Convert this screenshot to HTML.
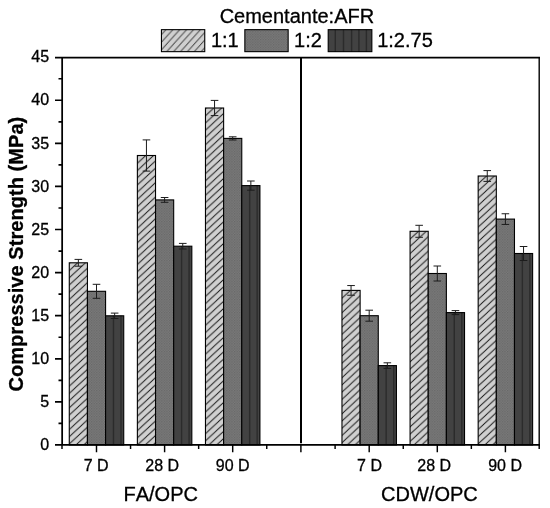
<!DOCTYPE html>
<html><head><meta charset="utf-8"><title>Compressive Strength</title>
<style>html,body{margin:0;padding:0;background:#fff;overflow:hidden}body{width:550px;height:508px}</style></head>
<body>
<svg width="550" height="508" viewBox="0 0 550 508" style="display:block">
<defs>
<pattern id="h2" patternUnits="userSpaceOnUse" width="6.9" height="7.6" x="1.1" y="51.6">
<rect width="6.9" height="7.6" fill="#d0d0d0"/>
<path d="M-6.9 15.2L13.8 -7.6M-6.9 7.6L6.9 -7.6M0 15.2L13.8 0" stroke="#1a1a1a" stroke-width="0.95" fill="none"/>
</pattern>
<pattern id="d1" patternUnits="userSpaceOnUse" width="2.6" height="2.6">
<rect width="2.6" height="2.6" fill="#7b7b7b"/>
<rect x="0" y="0" width="1.3" height="1.3" fill="#666"/>
<rect x="1.3" y="1.3" width="1.3" height="1.3" fill="#6c6c6c"/>
</pattern>
</defs>
<rect width="550" height="508" fill="#ffffff"/>
<pattern id="p1" patternUnits="userSpaceOnUse" x="69.28" y="270.60" width="7.77" height="7.225"><rect width="7.77" height="7.225" fill="#d0d0d0"/><path d="M-7.77 14.45L15.54 -7.225M-7.77 7.225L7.77 -7.225M0 14.45L15.54 0" stroke="#141414" stroke-width="0.95" fill="none"/></pattern><rect x="69.28" y="262.80" width="18.15" height="182.15" fill="url(#p1)" stroke="#000" stroke-width="1.1"/>
<rect x="87.43" y="291.30" width="18.15" height="153.65" fill="url(#d1)" stroke="#000" stroke-width="1.1"/>
<rect x="105.58" y="315.80" width="18.15" height="129.15" fill="#424242"/><line x1="113.48" y1="315.80" x2="113.48" y2="444.95" stroke="#2b2b2b" stroke-width="1.4"/><line x1="120.98" y1="315.80" x2="120.98" y2="444.95" stroke="#2b2b2b" stroke-width="1.4"/><rect x="105.58" y="315.80" width="18.15" height="129.15" fill="none" stroke="#000" stroke-width="1.1"/>
<pattern id="p2" patternUnits="userSpaceOnUse" x="137.38" y="163.30" width="7.77" height="7.225"><rect width="7.77" height="7.225" fill="#d0d0d0"/><path d="M-7.77 14.45L15.54 -7.225M-7.77 7.225L7.77 -7.225M0 14.45L15.54 0" stroke="#141414" stroke-width="0.95" fill="none"/></pattern><rect x="137.38" y="155.50" width="18.15" height="289.45" fill="url(#p2)" stroke="#000" stroke-width="1.1"/>
<rect x="155.53" y="199.90" width="18.15" height="245.05" fill="url(#d1)" stroke="#000" stroke-width="1.1"/>
<rect x="173.68" y="246.20" width="18.15" height="198.75" fill="#424242"/><line x1="181.58" y1="246.20" x2="181.58" y2="444.95" stroke="#2b2b2b" stroke-width="1.4"/><line x1="189.08" y1="246.20" x2="189.08" y2="444.95" stroke="#2b2b2b" stroke-width="1.4"/><rect x="173.68" y="246.20" width="18.15" height="198.75" fill="none" stroke="#000" stroke-width="1.1"/>
<pattern id="p3" patternUnits="userSpaceOnUse" x="205.47" y="115.80" width="7.77" height="7.225"><rect width="7.77" height="7.225" fill="#d0d0d0"/><path d="M-7.77 14.45L15.54 -7.225M-7.77 7.225L7.77 -7.225M0 14.45L15.54 0" stroke="#141414" stroke-width="0.95" fill="none"/></pattern><rect x="205.47" y="108.00" width="18.15" height="336.95" fill="url(#p3)" stroke="#000" stroke-width="1.1"/>
<rect x="223.62" y="138.40" width="18.15" height="306.55" fill="url(#d1)" stroke="#000" stroke-width="1.1"/>
<rect x="241.77" y="185.60" width="18.15" height="259.35" fill="#424242"/><line x1="249.67" y1="185.60" x2="249.67" y2="444.95" stroke="#2b2b2b" stroke-width="1.4"/><line x1="257.17" y1="185.60" x2="257.17" y2="444.95" stroke="#2b2b2b" stroke-width="1.4"/><rect x="241.77" y="185.60" width="18.15" height="259.35" fill="none" stroke="#000" stroke-width="1.1"/>
<pattern id="p4" patternUnits="userSpaceOnUse" x="341.97" y="298.20" width="7.77" height="7.225"><rect width="7.77" height="7.225" fill="#d0d0d0"/><path d="M-7.77 14.45L15.54 -7.225M-7.77 7.225L7.77 -7.225M0 14.45L15.54 0" stroke="#141414" stroke-width="0.95" fill="none"/></pattern><rect x="341.97" y="290.40" width="18.15" height="154.55" fill="url(#p4)" stroke="#000" stroke-width="1.1"/>
<rect x="360.12" y="315.70" width="18.15" height="129.25" fill="url(#d1)" stroke="#000" stroke-width="1.1"/>
<rect x="378.27" y="365.60" width="18.15" height="79.35" fill="#424242"/><line x1="386.17" y1="365.60" x2="386.17" y2="444.95" stroke="#2b2b2b" stroke-width="1.4"/><line x1="393.67" y1="365.60" x2="393.67" y2="444.95" stroke="#2b2b2b" stroke-width="1.4"/><rect x="378.27" y="365.60" width="18.15" height="79.35" fill="none" stroke="#000" stroke-width="1.1"/>
<pattern id="p5" patternUnits="userSpaceOnUse" x="410.07" y="239.10" width="7.77" height="7.225"><rect width="7.77" height="7.225" fill="#d0d0d0"/><path d="M-7.77 14.45L15.54 -7.225M-7.77 7.225L7.77 -7.225M0 14.45L15.54 0" stroke="#141414" stroke-width="0.95" fill="none"/></pattern><rect x="410.07" y="231.30" width="18.15" height="213.65" fill="url(#p5)" stroke="#000" stroke-width="1.1"/>
<rect x="428.22" y="273.50" width="18.15" height="171.45" fill="url(#d1)" stroke="#000" stroke-width="1.1"/>
<rect x="446.38" y="312.60" width="18.15" height="132.35" fill="#424242"/><line x1="454.27" y1="312.60" x2="454.27" y2="444.95" stroke="#2b2b2b" stroke-width="1.4"/><line x1="461.77" y1="312.60" x2="461.77" y2="444.95" stroke="#2b2b2b" stroke-width="1.4"/><rect x="446.38" y="312.60" width="18.15" height="132.35" fill="none" stroke="#000" stroke-width="1.1"/>
<pattern id="p6" patternUnits="userSpaceOnUse" x="478.17" y="183.80" width="7.77" height="7.225"><rect width="7.77" height="7.225" fill="#d0d0d0"/><path d="M-7.77 14.45L15.54 -7.225M-7.77 7.225L7.77 -7.225M0 14.45L15.54 0" stroke="#141414" stroke-width="0.95" fill="none"/></pattern><rect x="478.17" y="176.00" width="18.15" height="268.95" fill="url(#p6)" stroke="#000" stroke-width="1.1"/>
<rect x="496.32" y="219.10" width="18.15" height="225.85" fill="url(#d1)" stroke="#000" stroke-width="1.1"/>
<rect x="514.47" y="253.50" width="18.15" height="191.45" fill="#424242"/><line x1="522.37" y1="253.50" x2="522.37" y2="444.95" stroke="#2b2b2b" stroke-width="1.4"/><line x1="529.87" y1="253.50" x2="529.87" y2="444.95" stroke="#2b2b2b" stroke-width="1.4"/><rect x="514.47" y="253.50" width="18.15" height="191.45" fill="none" stroke="#000" stroke-width="1.1"/>
<path d="M78.35 259.40V266.20M74.55 259.40H82.15M74.55 266.20H82.15" stroke="#1c1c1c" stroke-width="1" fill="none"/>
<path d="M96.50 284.30V298.30M92.70 284.30H100.30M92.70 298.30H100.30" stroke="#1c1c1c" stroke-width="1" fill="none"/>
<path d="M114.65 313.10V318.50M110.85 313.10H118.45M110.85 318.50H118.45" stroke="#1c1c1c" stroke-width="1" fill="none"/>
<path d="M146.45 139.90V171.10M142.65 139.90H150.25M142.65 171.10H150.25" stroke="#1c1c1c" stroke-width="1" fill="none"/>
<path d="M164.60 197.50V202.30M160.80 197.50H168.40M160.80 202.30H168.40" stroke="#1c1c1c" stroke-width="1" fill="none"/>
<path d="M182.75 243.40V249.00M178.95 243.40H186.55M178.95 249.00H186.55" stroke="#1c1c1c" stroke-width="1" fill="none"/>
<path d="M214.55 100.40V115.60M210.75 100.40H218.35M210.75 115.60H218.35" stroke="#1c1c1c" stroke-width="1" fill="none"/>
<path d="M232.70 136.80V140.00M228.90 136.80H236.50M228.90 140.00H236.50" stroke="#1c1c1c" stroke-width="1" fill="none"/>
<path d="M250.85 181.00V190.20M247.05 181.00H254.65M247.05 190.20H254.65" stroke="#1c1c1c" stroke-width="1" fill="none"/>
<path d="M351.05 285.55V295.25M347.25 285.55H354.85M347.25 295.25H354.85" stroke="#1c1c1c" stroke-width="1" fill="none"/>
<path d="M369.20 310.20V321.20M365.40 310.20H373.00M365.40 321.20H373.00" stroke="#1c1c1c" stroke-width="1" fill="none"/>
<path d="M387.35 362.80V368.40M383.55 362.80H391.15M383.55 368.40H391.15" stroke="#1c1c1c" stroke-width="1" fill="none"/>
<path d="M419.15 225.30V237.30M415.35 225.30H422.95M415.35 237.30H422.95" stroke="#1c1c1c" stroke-width="1" fill="none"/>
<path d="M437.30 266.00V281.00M433.50 266.00H441.10M433.50 281.00H441.10" stroke="#1c1c1c" stroke-width="1" fill="none"/>
<path d="M455.45 310.60V314.60M451.65 310.60H459.25M451.65 314.60H459.25" stroke="#1c1c1c" stroke-width="1" fill="none"/>
<path d="M487.25 170.60V181.40M483.45 170.60H491.05M483.45 181.40H491.05" stroke="#1c1c1c" stroke-width="1" fill="none"/>
<path d="M505.40 213.75V224.45M501.60 213.75H509.20M501.60 224.45H509.20" stroke="#1c1c1c" stroke-width="1" fill="none"/>
<path d="M523.55 246.50V260.50M519.75 246.50H527.35M519.75 260.50H527.35" stroke="#1c1c1c" stroke-width="1" fill="none"/>
<path d="M62.15 57.55V444.95" stroke="#000" stroke-width="1.75" fill="none"/>
<path d="M301.0 57.55V443.2" stroke="#000" stroke-width="2" fill="none"/>
<path d="M539.2 57.55V444.95" stroke="#000" stroke-width="1.4" fill="none"/>
<path d="M55 57.55H540.0M55 444.95H540.0" stroke="#000" stroke-width="1.8" fill="none"/>
<path d="M58.5 423.41H62.0M55 401.87H62.0M58.5 380.32H62.0M55 358.78H62.0M58.5 337.24H62.0M55 315.69H62.0M58.5 294.15H62.0M55 272.61H62.0M58.5 251.07H62.0M55 229.52H62.0M58.5 207.98H62.0M55 186.44H62.0M58.5 164.90H62.0M55 143.35H62.0M58.5 121.81H62.0M55 100.27H62.0M58.5 78.73H62.0" stroke="#000" stroke-width="1.7" fill="none"/>
<path d="M62 444.95V449.1M96.5 444.95V452.3M130.55 444.95V449.1M164.6 444.95V452.3M198.65 444.95V449.1M232.7 444.95V452.3M266.75 444.95V449.1M300.9 444.95V452.3M335.1 444.95V449.1M369.2 444.95V452.3M403.25 444.95V449.1M437.3 444.95V452.3M471.35 444.95V449.1M505.4 444.95V452.3M539.2 444.95V449.1" stroke="#000" stroke-width="1.45" fill="none"/>
<text x="49.1" y="450" text-anchor="end" font-size="16" font-family="Liberation Sans, Arial, Helvetica, sans-serif" stroke="#000" stroke-width="0.3" style="font-kerning:none" fill="#000">0</text>
<text x="49.1" y="407" text-anchor="end" font-size="16" font-family="Liberation Sans, Arial, Helvetica, sans-serif" stroke="#000" stroke-width="0.3" style="font-kerning:none" fill="#000">5</text>
<text x="49.1" y="364" text-anchor="end" font-size="16" font-family="Liberation Sans, Arial, Helvetica, sans-serif" stroke="#000" stroke-width="0.3" style="font-kerning:none" fill="#000">10</text>
<text x="49.1" y="321" text-anchor="end" font-size="16" font-family="Liberation Sans, Arial, Helvetica, sans-serif" stroke="#000" stroke-width="0.3" style="font-kerning:none" fill="#000">15</text>
<text x="49.1" y="278" text-anchor="end" font-size="16" font-family="Liberation Sans, Arial, Helvetica, sans-serif" stroke="#000" stroke-width="0.3" style="font-kerning:none" fill="#000">20</text>
<text x="49.1" y="235" text-anchor="end" font-size="16" font-family="Liberation Sans, Arial, Helvetica, sans-serif" stroke="#000" stroke-width="0.3" style="font-kerning:none" fill="#000">25</text>
<text x="49.1" y="192" text-anchor="end" font-size="16" font-family="Liberation Sans, Arial, Helvetica, sans-serif" stroke="#000" stroke-width="0.3" style="font-kerning:none" fill="#000">30</text>
<text x="49.1" y="149" text-anchor="end" font-size="16" font-family="Liberation Sans, Arial, Helvetica, sans-serif" stroke="#000" stroke-width="0.3" style="font-kerning:none" fill="#000">35</text>
<text x="49.1" y="105" text-anchor="end" font-size="16" font-family="Liberation Sans, Arial, Helvetica, sans-serif" stroke="#000" stroke-width="0.3" style="font-kerning:none" fill="#000">40</text>
<text x="49.1" y="62" text-anchor="end" font-size="16" font-family="Liberation Sans, Arial, Helvetica, sans-serif" stroke="#000" stroke-width="0.3" style="font-kerning:none" fill="#000">45</text>
<text transform="translate(23.1 254.1) rotate(-90)" text-anchor="middle" letter-spacing="0.056" font-size="20" font-weight="bold" font-family="Liberation Sans, Arial, Helvetica, sans-serif" stroke="#000" stroke-width="0.3" style="font-kerning:none" fill="#000">Compressive Strength (MPa)</text>
<text x="96.2" y="470.5" text-anchor="middle" font-size="16" font-family="Liberation Sans, Arial, Helvetica, sans-serif" stroke="#000" stroke-width="0.3" style="font-kerning:none" fill="#000">7 D</text>
<text x="162.2" y="470.5" text-anchor="middle" font-size="16" font-family="Liberation Sans, Arial, Helvetica, sans-serif" stroke="#000" stroke-width="0.3" style="font-kerning:none" fill="#000">28 D</text>
<text x="232.7" y="470.5" text-anchor="middle" font-size="16" font-family="Liberation Sans, Arial, Helvetica, sans-serif" stroke="#000" stroke-width="0.3" style="font-kerning:none" fill="#000">90 D</text>
<text x="369.5" y="470.5" text-anchor="middle" font-size="16" font-family="Liberation Sans, Arial, Helvetica, sans-serif" stroke="#000" stroke-width="0.3" style="font-kerning:none" fill="#000">7 D</text>
<text x="434.2" y="470.5" text-anchor="middle" font-size="16" font-family="Liberation Sans, Arial, Helvetica, sans-serif" stroke="#000" stroke-width="0.3" style="font-kerning:none" fill="#000">28 D</text>
<text x="505.1" y="470.5" text-anchor="middle" font-size="16" font-family="Liberation Sans, Arial, Helvetica, sans-serif" stroke="#000" stroke-width="0.3" style="font-kerning:none" fill="#000">90 D</text>
<text x="123.5" y="500.6" font-size="20" font-family="Liberation Sans, Arial, Helvetica, sans-serif" stroke="#000" stroke-width="0.3" style="font-kerning:none" fill="#000">FA/OPC</text>
<text x="429.4" y="500.6" text-anchor="middle" font-size="20" font-family="Liberation Sans, Arial, Helvetica, sans-serif" stroke="#000" stroke-width="0.3" style="font-kerning:none" fill="#000">CDW/OPC</text>
<text x="296.9" y="22.5" text-anchor="middle" font-size="20" font-family="Liberation Sans, Arial, Helvetica, sans-serif" stroke="#000" stroke-width="0.3" style="font-kerning:none" fill="#000">Cementante:AFR</text>
<rect x="161.45" y="29.65" width="43.3" height="22.0" fill="url(#h2)" stroke="#000" stroke-width="1.1"/>
<rect x="244.85" y="29.65" width="43.3" height="22.0" fill="url(#d1)" stroke="#000" stroke-width="1.1"/>
<rect x="328.2" y="29.65" width="43.65" height="22.0" fill="#424242"/>
<line x1="335.3" y1="29.65" x2="335.3" y2="51.65" stroke="#2b2b2b" stroke-width="1.4"/>
<line x1="343.5" y1="29.65" x2="343.5" y2="51.65" stroke="#2b2b2b" stroke-width="1.4"/>
<line x1="351.6" y1="29.65" x2="351.6" y2="51.65" stroke="#2b2b2b" stroke-width="1.4"/>
<line x1="358.9" y1="29.65" x2="358.9" y2="51.65" stroke="#2b2b2b" stroke-width="1.4"/>
<line x1="366.4" y1="29.65" x2="366.4" y2="51.65" stroke="#2b2b2b" stroke-width="1.4"/>
<rect x="328.2" y="29.65" width="43.65" height="22.0" fill="none" stroke="#000" stroke-width="1.1"/>
<text x="210.9" y="47" font-size="20" font-family="Liberation Sans, Arial, Helvetica, sans-serif" stroke="#000" stroke-width="0.3" style="font-kerning:none" fill="#000">1:1</text>
<text x="294.1" y="47" font-size="20" font-family="Liberation Sans, Arial, Helvetica, sans-serif" stroke="#000" stroke-width="0.3" style="font-kerning:none" fill="#000">1:2</text>
<text x="377.2" y="47" font-size="20" font-family="Liberation Sans, Arial, Helvetica, sans-serif" stroke="#000" stroke-width="0.3" style="font-kerning:none" fill="#000">1:2.75</text>
</svg>
</body></html>
